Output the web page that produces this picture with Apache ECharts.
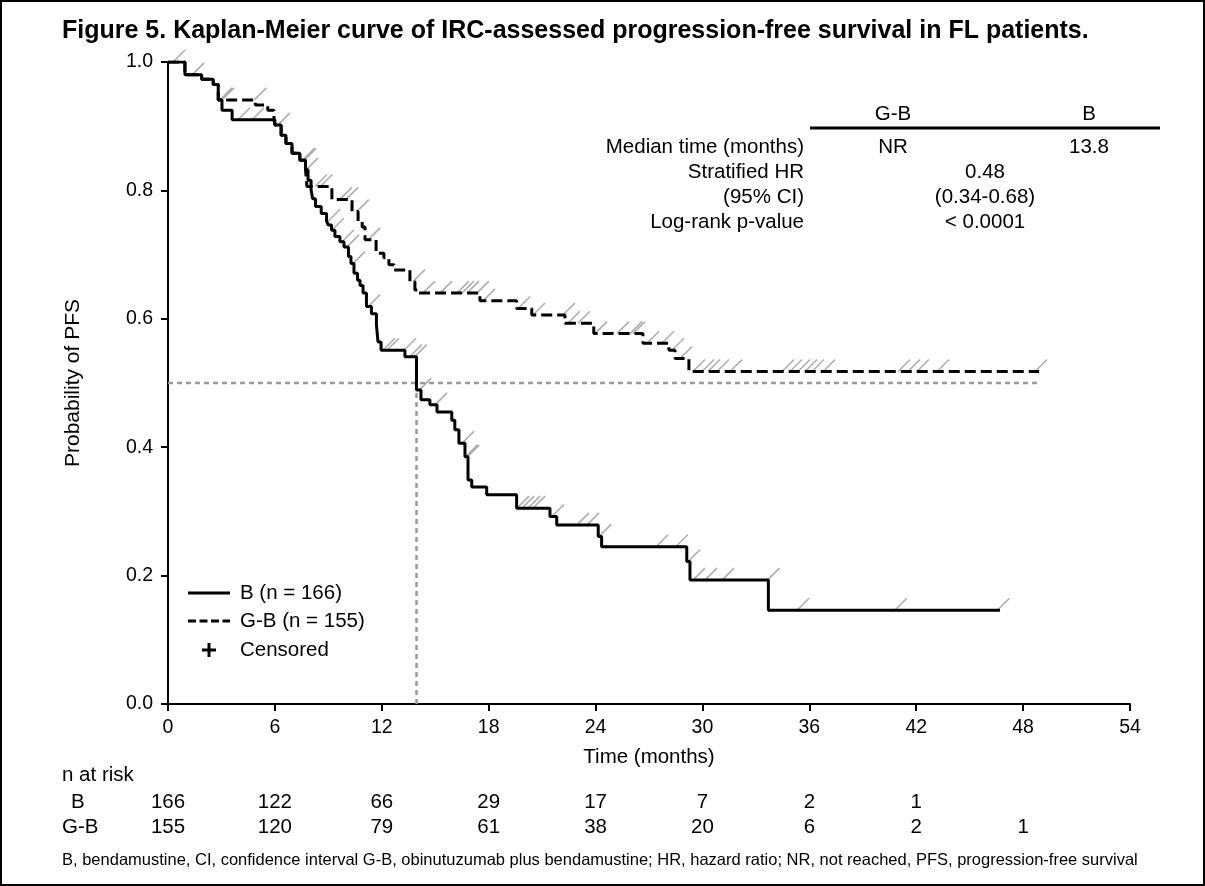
<!DOCTYPE html>
<html><head><meta charset="utf-8">
<script src="https://cdn.jsdelivr.net/npm/echarts@6/dist/echarts.min.js"></script>
<style>html,body{margin:0;padding:0;background:#fff}#c{width:1205px;height:886px}</style>
</head><body><div id="c"></div>
<script>
const FONT = "'Liberation Sans', Arial, Helvetica, sans-serif";

// Kaplan-Meier steps: [time (months), survival after step]
const bSteps = [[0,1.0],[0.95,0.980],[1.89,0.973],[2.54,0.965],[2.82,0.941],[3.03,0.925],[3.6,0.910],
  [6.0,0.902],[6.35,0.886],[6.62,0.873],[6.96,0.858],[7.4,0.847],[7.72,0.832],[7.86,0.816],[8.03,0.801],
  [8.12,0.787],[8.28,0.775],[8.6,0.764],[8.9,0.752],[9.0,0.746],[9.18,0.738],[9.37,0.728],[9.65,0.720],
  [9.88,0.712],[10.13,0.697],[10.27,0.686],[10.44,0.671],[10.64,0.660],[10.78,0.652],[10.95,0.640],
  [11.14,0.619],[11.42,0.608],[11.7,0.590],[11.79,0.564],[11.96,0.551],[13.3,0.541],[13.95,0.489],
  [14.2,0.474],[14.7,0.466],[15.1,0.455],[15.93,0.442],[16.1,0.427],[16.33,0.406],[16.67,0.385],
  [16.84,0.349],[17.05,0.338],[17.89,0.326],[19.57,0.305],[21.44,0.292],[21.82,0.279],[24.15,0.261],
  [24.34,0.245],[29.12,0.222],[29.3,0.193],[33.7,0.146],[46.7,0.146]];
const gbSteps = [[0,1.0],[0.95,0.980],[1.89,0.973],[2.54,0.965],[2.82,0.941],[4.9,0.933],[5.6,0.925],
  [5.95,0.910],[6.0,0.902],[6.35,0.886],[6.62,0.873],[6.96,0.858],[7.4,0.847],[7.72,0.832],[7.8,0.806],
  [9.2,0.786],[10.33,0.767],[10.67,0.751],[10.9,0.743],[11.06,0.723],[11.68,0.702],[12.12,0.695],
  [12.4,0.684],[12.69,0.676],[13.58,0.658],[13.86,0.645],[14.03,0.640],[17.51,0.628],[19.57,0.616],
  [20.42,0.606],[22.28,0.593],[23.9,0.577],[26.66,0.562],[28.12,0.551],[28.46,0.538],[29.24,0.518],
  [48.9,0.518]];
// censoring times
const bCensor = [0.28,2.92,3.93,4.72,6.17,7.55,7.65,7.75,8.98,9.2,9.77,10.05,10.38,11.23,12.07,12.29,
  13.25,13.58,13.85,14.1,14.99,16.5,16.7,16.8,19.59,19.87,20.21,20.49,21.55,22.96,23.52,24.2,27.4,28.5,
  29.2,29.47,30.14,31.1,33.65,35.31,40.8,46.55];
const gbCensor = [1.35,3.03,4.85,8.25,8.55,9.65,10.0,10.6,11.23,13.75,14.31,15.27,16.22,16.5,16.78,17.34,
  17.68,19.65,20.49,22.17,22.45,23.01,23.97,25.2,25.93,26.1,26.89,27.73,28.29,28.74,29.47,29.98,30.31,
  30.82,31.55,34.47,34.91,35.36,35.76,36.15,36.77,40.98,41.54,42.04,43.17,48.67];

const medianProb = 0.5;
const medianTimeB = 13.95;
const refLineEnd = 48.95;

const riskTimes = [0,6,12,18,24,30,36,42,48];
const riskB = [166,122,66,29,17,7,2,1];
const riskGB = [155,120,79,61,38,20,6,2,1];

const statRows = ['Median time (months)','Stratified HR','(95% CI)','Log-rank p-value'];
const statGB = 'NR', statB = '13.8', statHR = '0.48', statCI = '(0.34-0.68)', statP = '< 0.0001';

function survAt(steps, t){ let v = steps[0][1]; for (const [x,y] of steps) if (x <= t) v = y; return v; }
const bCensorPts = bCensor.map(t => [t, survAt(bSteps, t)]);
const gbCensorPts = gbCensor.map(t => [t, survAt(gbSteps, t)]);

const slash = 'path://M0,12L12,0';
const censorStyle = { color: 'rgba(0,0,0,0)', borderColor: '#9a9a9a', borderWidth: 1.6 };

const chart = echarts.init(document.getElementById('c'), null, {renderer:'canvas'});
const option = {
  animation: false,
  backgroundColor: '#fff',
  textStyle: { fontFamily: FONT },
  grid: { left: 168, right: 75, top: 62, bottom: 182, containLabel: false },
  xAxis: {
    type: 'value', min: 0, max: 54, interval: 6,
    axisLine: { lineStyle: { color: '#000', width: 2 } },
    axisTick: { show: true, length: 7, lineStyle: { color: '#000', width: 2 } },
    axisLabel: { color: '#000', fontSize: 19.5, margin: 14, fontFamily: FONT },
    splitLine: { show: false },
    name: 'Time (months)', nameLocation: 'middle', nameGap: 43,
    nameTextStyle: { color: '#000', fontSize: 20.5, fontFamily: FONT }
  },
  yAxis: {
    type: 'value', min: 0, max: 1, interval: 0.2,
    axisLine: { show: true, lineStyle: { color: '#000', width: 2 } },
    axisTick: { show: true, length: 7, lineStyle: { color: '#000', width: 2 } },
    axisLabel: { color: '#000', fontSize: 19.5, margin: 15, fontFamily: FONT, formatter: v => v.toFixed(1) },
    splitLine: { show: false },
    name: 'Probability of PFS', nameLocation: 'middle', nameGap: 84, nameRotate: 90,
    nameTextStyle: { color: '#000', fontSize: 21, fontFamily: FONT }
  },
  series: [
    { type: 'line', data: [[0, medianProb], [refLineEnd, medianProb]], symbol: 'none', silent: true, z: 1,
      lineStyle: { color: '#999', width: 2.5, type: [5, 4] } },
    { type: 'line', data: [[medianTimeB, 0], [medianTimeB, medianProb]], symbol: 'none', silent: true, z: 1,
      lineStyle: { color: '#999', width: 2.5, type: [5, 4] } },
    { name: 'B', type: 'line', step: 'end', data: bSteps, symbol: 'none', z: 3,
      lineStyle: { color: '#000', width: 3 } },
    { name: 'G-B', type: 'line', step: 'end', data: gbSteps, symbol: 'none', z: 3,
      lineStyle: { color: '#000', width: 3, type: [11, 5] } },
    { type: 'scatter', data: bCensorPts, symbol: slash, symbolSize: [12, 12], symbolOffset: [6, -6],
      itemStyle: censorStyle, z: 2 },
    { type: 'scatter', data: gbCensorPts, symbol: slash, symbolSize: [12, 12], symbolOffset: [6, -6],
      itemStyle: censorStyle, z: 2 }
  ]
};
chart.setOption(option);

function txt(x, y, text, opts = {}) {
  return { type: 'text', x, y, silent: true, z: 10, style: Object.assign({
    text, fill: '#000', fontSize: 20.5, fontFamily: FONT,
    align: 'left', verticalAlign: 'middle', textAlign: 'left', textVerticalAlign: 'middle'
  }, opts) };
}
const g = [];
g.push({ type: 'rect', shape: { x: 1, y: 1, width: 1203, height: 884 }, silent: true,
  style: { fill: 'none', stroke: '#000', lineWidth: 2 } });
g.push(txt(62, 31, 'Figure 5. Kaplan-Meier curve of IRC-assessed progression-free survival in FL patients.',
  { fontSize: 25, fontWeight: 'bold' }));

// stats table
const colGB = 893, colB = 1089, colMid = 985, labelRight = 804;
g.push(txt(colGB, 114, 'G-B', { align: 'center', textAlign: 'center' }));
g.push(txt(colB, 114, 'B', { align: 'center', textAlign: 'center' }));
g.push({ type: 'line', shape: { x1: 810, y1: 128, x2: 1160, y2: 128 }, silent: true,
  style: { stroke: '#000', lineWidth: 3 } });
const rowY = [147, 172, 197, 222];
statRows.forEach((r, i) => g.push(txt(labelRight, rowY[i], r, { align: 'right', textAlign: 'right' })));
g.push(txt(colGB, rowY[0], statGB, { align: 'center', textAlign: 'center' }));
g.push(txt(colB, rowY[0], statB, { align: 'center', textAlign: 'center' }));
g.push(txt(colMid, rowY[1], statHR, { align: 'center', textAlign: 'center' }));
g.push(txt(colMid, rowY[2], statCI, { align: 'center', textAlign: 'center' }));
g.push(txt(colMid, rowY[3], statP, { align: 'center', textAlign: 'center' }));

// legend
g.push({ type: 'line', shape: { x1: 188, y1: 593, x2: 230, y2: 593 }, silent: true,
  style: { stroke: '#000', lineWidth: 3 } });
g.push(txt(240, 593, 'B (n = 166)'));
g.push({ type: 'line', shape: { x1: 188, y1: 621, x2: 230, y2: 621 }, silent: true,
  style: { stroke: '#000', lineWidth: 3, lineDash: [8, 3.5] } });
g.push(txt(240, 621, 'G-B (n = 155)'));
g.push({ type: 'line', shape: { x1: 202, y1: 650, x2: 216, y2: 650 }, silent: true, style: { stroke: '#000', lineWidth: 3 } });
g.push({ type: 'line', shape: { x1: 209, y1: 643, x2: 209, y2: 657 }, silent: true, style: { stroke: '#000', lineWidth: 3 } });
g.push(txt(240, 650, 'Censored'));

// number at risk
g.push(txt(62, 775, 'n at risk'));
g.push(txt(71, 802, 'B'));
g.push(txt(62, 827, 'G-B'));
riskB.forEach((n, i) => {
  const x = chart.convertToPixel({ xAxisIndex: 0 }, riskTimes[i]);
  g.push(txt(x, 802, String(n), { align: 'center', textAlign: 'center' }));
});
riskGB.forEach((n, i) => {
  const x = chart.convertToPixel({ xAxisIndex: 0 }, riskTimes[i]);
  g.push(txt(x, 827, String(n), { align: 'center', textAlign: 'center' }));
});
g.push(txt(62, 860, 'B, bendamustine, CI, confidence interval G-B, obinutuzumab plus bendamustine; HR, hazard ratio; NR, not reached, PFS, progression-free survival',
  { fontSize: 16.5 }));

chart.setOption({ graphic: g });
</script></body></html>
